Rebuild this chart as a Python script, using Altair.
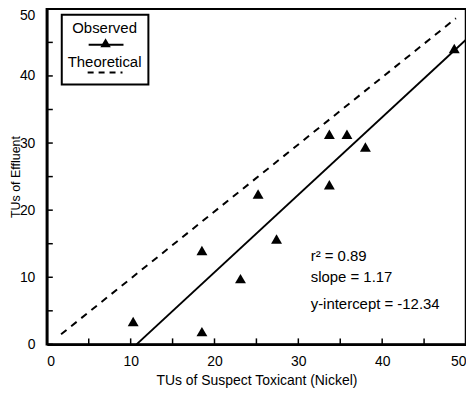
import altair as alt
import pandas as pd

# Observed data
obs_x = [10.3, 18.5, 18.5, 23.1, 25.2, 27.4, 33.7, 33.7, 35.8, 38.0, 48.6]
obs_y = [3.4, 1.9, 14.0, 9.8, 22.4, 15.7, 23.8, 31.3, 31.3, 29.4, 44.1]
# Regression (observed) line endpoints
fit_x = [10.7, 50.0]
fit_y = [0.0, 45.4]
# Theoretical line endpoints
theo_x = [1.7, 48.8]
theo_y = [1.5, 48.6]
# Tick positions
major_ticks = [0, 10, 20, 30, 40, 50]
minor_ticks = [5, 15, 25, 35, 45]
stats_lines = ["r\u00b2 = 0.89", "slope = 1.17", "y-intercept = -12.34"]
stats_y = [13.2, 10.1, 6.0]

FONT = "Liberation Sans"
W, H = 421, 337

xs = alt.Scale(domain=[0, 50], nice=False, zero=False)
ys = alt.Scale(domain=[0, 50], nice=False, zero=False)

obs = pd.DataFrame({"x": obs_x, "y": obs_y})
fit = pd.DataFrame({"x": fit_x, "y": fit_y})
theo = pd.DataFrame({"x": theo_x, "y": theo_y})
ticks = pd.DataFrame({"v": major_ticks + minor_ticks})
stats = pd.DataFrame({"t": stats_lines, "y": stats_y})
one = pd.DataFrame({"a": [0]})

base_x = alt.X("x:Q", scale=xs, axis=alt.Axis(
    values=major_ticks, title="TUs of Suspect Toxicant (Nickel)",
    titleX=W / 2, titleY=36, titleBaseline="middle", titleAlign="center",
    titleFontSize=14))
base_y = alt.Y("y:Q", scale=ys, axis=alt.Axis(
    values=major_ticks, title="TUs of Effluent",
    titleX=-27.5, titleY=H / 2, titleAngle=270, titleAlign="center",
    titleBaseline="alphabetic", titleFontSize=12.5,
    labelBaseline={"condition": {"test": "datum.value == 50", "value": "top"},
                   "value": "middle"}))

points = alt.Chart(obs).mark_point(shape="triangle-up", filled=True, color="black",
                                   size=120, opacity=1).encode(x=base_x, y=base_y)
fit_line = alt.Chart(fit).mark_line(color="black", strokeWidth=2).encode(
    x=alt.X("x:Q", scale=xs), y=alt.Y("y:Q", scale=ys))
theo_line = alt.Chart(theo).mark_line(color="black", strokeWidth=2, strokeDash=[7, 6]).encode(
    x=alt.X("x:Q", scale=xs), y=alt.Y("y:Q", scale=ys))

xticks = alt.Chart(ticks).mark_rule(color="black", strokeWidth=1.5).encode(
    x=alt.X("v:Q", scale=xs), y=alt.value(H), y2=alt.value(H - 6))
yticks = alt.Chart(ticks).mark_rule(color="black", strokeWidth=1.5).encode(
    y=alt.Y("v:Q", scale=ys), x=alt.value(0), x2=alt.value(6))

stats_text = alt.Chart(stats).mark_text(align="left", baseline="middle", font=FONT,
                                        fontSize=15, color="black").encode(
    x=alt.value(265), y=alt.Y("y:Q", scale=ys), text="t:N")

# Legend
leg_box = alt.Chart(one).mark_rect(fill="white", stroke="black", strokeWidth=2).encode(
    x=alt.value(15), x2=alt.value(102), y=alt.value(6), y2=alt.value(76))
leg_t1 = alt.Chart(one).mark_text(font=FONT, fontSize=15, color="black").encode(
    x=alt.value(58), y=alt.value(19), text=alt.value("Observed"))
leg_t2 = alt.Chart(one).mark_text(font=FONT, fontSize=15, color="black").encode(
    x=alt.value(58), y=alt.value(53), text=alt.value("Theoretical"))
leg_l1 = alt.Chart(one).mark_rule(color="black", strokeWidth=2).encode(
    x=alt.value(42), x2=alt.value(77), y=alt.value(36))
leg_p1 = alt.Chart(one).mark_point(shape="triangle-up", filled=True, color="black",
                                   size=110, opacity=1).encode(
    x=alt.value(59), y=alt.value(34))
leg_l2 = alt.Chart(one).mark_rule(color="black", strokeWidth=2, strokeDash=[6, 5]).encode(
    x=alt.value(41), x2=alt.value(76), y=alt.value(64))

chart = alt.layer(
    theo_line, fit_line, points, xticks, yticks, stats_text,
    leg_box, leg_t1, leg_t2, leg_l1, leg_p1, leg_l2
).properties(
    width=W, height=H,
    autosize=alt.AutoSizeParams(type="none"),
    padding={"left": 39, "top": 0, "right": 0, "bottom": 48},
).configure_view(
    stroke="black", strokeWidth=2.5
).configure_axis(
    domain=True, domainColor="black", domainWidth=2.5, ticks=False,
    grid=False, labelFont=FONT, labelFontSize=14, labelColor="black",
    titleFont=FONT, titleFontWeight="normal", titleColor="black",
).configure_axisX(labelPadding=10).configure_axisY(labelPadding=12)

chart.save("out.html", embed_options={"renderer": "svg", "actions": False})
